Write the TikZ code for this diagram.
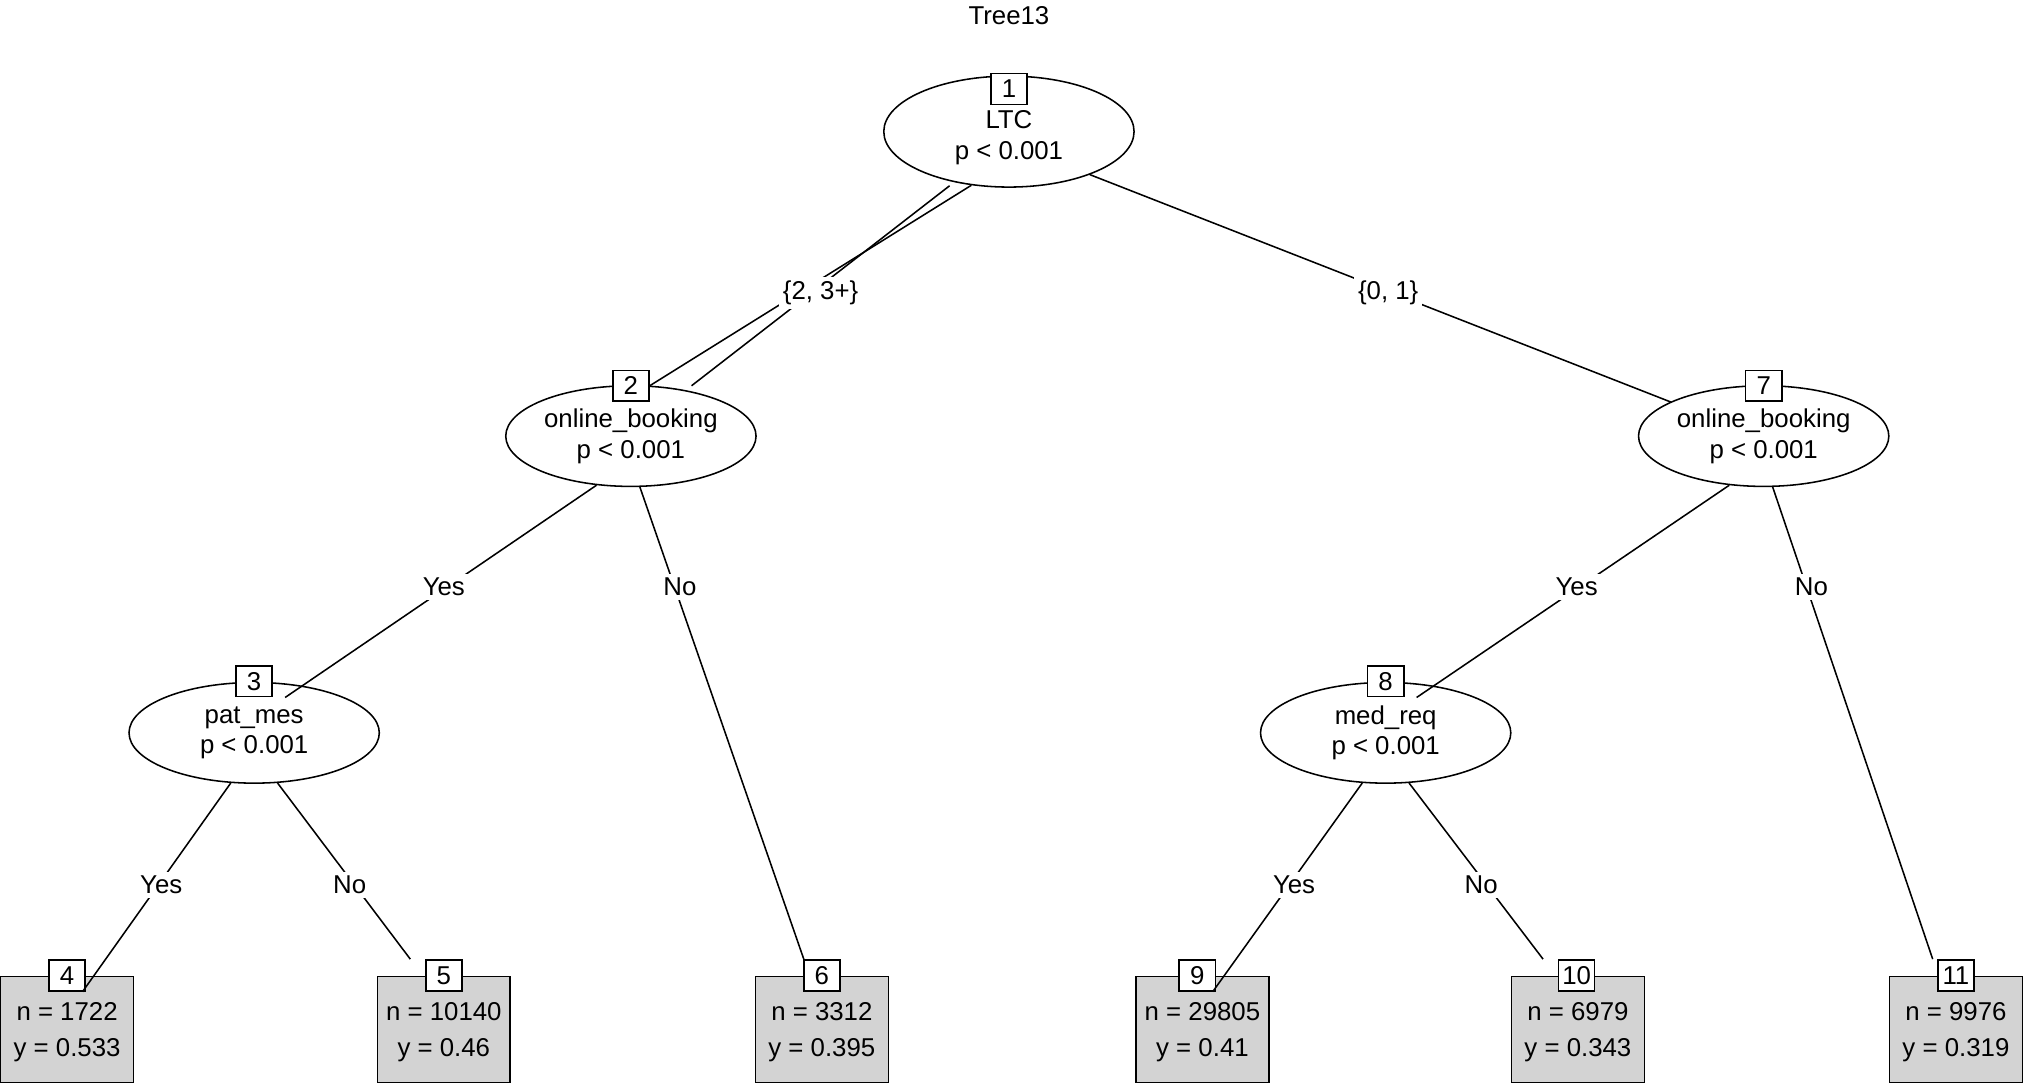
\documentclass[tikz,border=0pt]{standalone}
\usepackage{fontspec}
\setmainfont{Liberation Sans}
\usetikzlibrary{shapes.geometric}
\begin{document}
\begin{tikzpicture}[x=0.5pt,y=-0.5pt,font=\fontsize{10}{12}\selectfont,
  inner/.style={ellipse,draw,line width=0.6pt,minimum width=97pt,minimum height=43pt,align=center,inner sep=0pt},
  leaf/.style={rectangle,draw,line width=0.6pt,fill={rgb,255:red,211;green,211;blue,211},minimum width=51.5pt,minimum height=41pt,align=center,inner sep=0pt,text depth=0pt},
  num/.style={rectangle,draw,line width=0.6pt,fill=white,minimum width=14pt,minimum height=12pt,inner sep=1pt},
  lab/.style={fill=white,inner sep=1.5pt},
  edge/.style={line width=0.6pt}]
\useasboundingbox (0,0) rectangle (1568,839);
\node at (782,12) {Tree13};
% edges first
\coordinate (c1) at (782,102);
\node[inner] (e1) at (782,102) {\\LTC\\p < 0.001};
\node[inner,minimum height=39pt] (e2) at (489,338) {online\_booking\\p < 0.001};
\node[inner,minimum height=39pt] (e3) at (197,568) {pat\_mes\\p < 0.001};
\node[inner,minimum height=39pt] (e7) at (1367,338) {online\_booking\\p < 0.001};
\node[inner,minimum height=39pt] (e8) at (1074,568) {med\_req\\p < 0.001};
\node[leaf] (l4) at (52,798) {n = 1722\\[2pt]y = 0.533};
\node[leaf] (l5) at (344,798) {n = 10140\\[2pt]y = 0.46};
\node[leaf] (l6) at (637,798) {n = 3312\\[2pt]y = 0.395};
\node[leaf] (l9) at (932,798) {n = 29805\\[2pt]y = 0.41};
\node[leaf] (l10) at (1223,798) {n = 6979\\[2pt]y = 0.343};
\node[leaf] (l11) at (1516,798) {n = 9976\\[2pt]y = 0.319};
\node[num] (b1) at (782,69) {1};
\node[num] (b2) at (489,299) {2};
\node[num] (b3) at (197,528) {3};
\node[num] (b4) at (52,756) {4};
\node[num] (b5) at (344,756) {5};
\node[num] (b6) at (637,756) {6};
\node[num] (b7) at (1367,299) {7};
\node[num] (b8) at (1074,528) {8};
\node[num] (b9) at (928,756) {9};
\node[num] (b10) at (1222,756) {10};
\node[num] (b11) at (1516,756) {11};
\begin{scope}[on background layer/.style={}]
\draw[edge] (736,144) coordinate (s12) -- (536,299) coordinate (t12);
\end{scope}
\draw[edge] (e1.-125) -- (b2.north east|-t12);
\draw[edge] (e1.-28) -- ([xshift=-36pt]b7.south);
\draw[edge] (e2.-125) -- ([xshift=12pt]b3.south);
\draw[edge] (e2.-80) -- ([xshift=-7pt]b6.north);
\draw[edge] (e3.-115) -- ([xshift=6pt]b4.south);
\draw[edge] (e3.-65) -- ([xshift=-13pt]b5.north);
\draw[edge] (e7.-125) -- ([xshift=12pt]b8.south);
\draw[edge] (e7.-80) -- ([xshift=-9pt]b11.north);
\draw[edge] (e8.-115) -- ([xshift=6pt]b9.south);
\draw[edge] (e8.-65) -- ([xshift=-13pt]b10.north);
\node[lab] (k12) at (636,227) {\{2, 3+\}};
\node[lab] (k17) at (1076,227) {\{0, 1\}};
\node[lab] (k23) at (344,455) {Yes};
\node[lab] (k26) at (527,455) {No};
\node[lab] (k34) at (125,686) {Yes};
\node[lab] (k35) at (271,686) {No};
\node[lab] (k78) at (1222,455) {Yes};
\node[lab] (k711) at (1404,455) {No};
\node[lab] (k89) at (1003,686) {Yes};
\node[lab] (k810) at (1148,686) {No};
\end{tikzpicture}
\end{document}
